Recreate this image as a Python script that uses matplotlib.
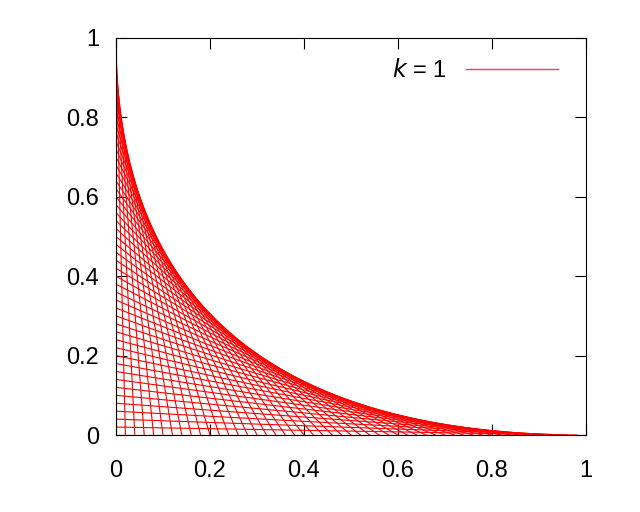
import numpy as np
import matplotlib
matplotlib.use("Agg")
import matplotlib.pyplot as plt
from matplotlib.lines import Line2D

plt.rcParams['font.family'] = ['Liberation Sans', 'DejaVu Sans']
k = 1
n_lines = 50
a_vals = np.linspace(0, 1, n_lines + 1)  # x-intercepts; y-intercept = (1-a)^k

fig = plt.figure(figsize=(6.4, 5.12), dpi=100)
ax = fig.add_axes([116/640, 1-435/512, (586-116)/640, (435-38)/512])
for a in a_vals:
    b = (1 - a) ** k
    ax.plot([a, 0], [0, b], color='red', lw=0.8)
ax.set_xlim(0, 1); ax.set_ylim(0, 1)
ax.set_xticks([0, 0.2, 0.4, 0.6, 0.8, 1]); ax.set_yticks([0, 0.2, 0.4, 0.6, 0.8, 1])
ax.set_xticklabels(['0', '0.2', '0.4', '0.6', '0.8', '1'])
ax.set_yticklabels(['0', '0.2', '0.4', '0.6', '0.8', '1'])
ax.tick_params(direction='in', top=True, right=True, length=8, labelsize=17)
ax.tick_params(axis='x', pad=18)
ax.tick_params(axis='y', pad=12)
handle = Line2D([], [], color='#ff4040', lw=1.0)
leg = ax.legend([handle], [r'$k$ = 1'], loc='upper right', frameon=False, fontsize=17,
                handlelength=3.9, markerfirst=False, bbox_to_anchor=(0.985, 1.0))
fig.savefig('out.png')
